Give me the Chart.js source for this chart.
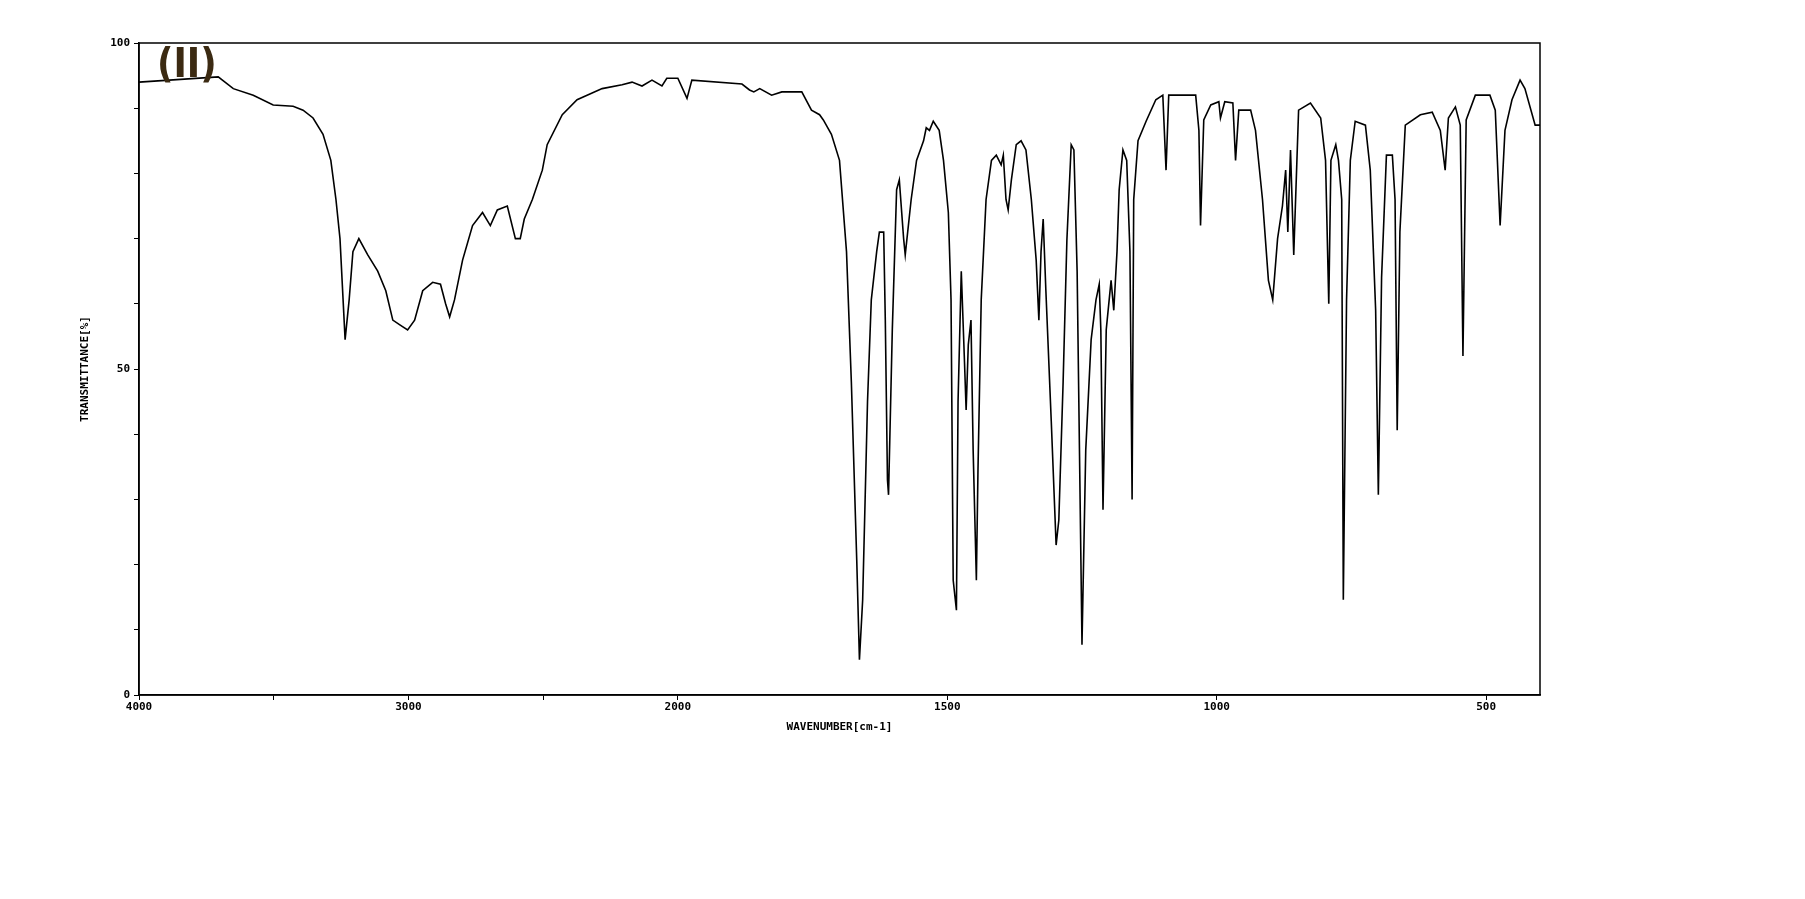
<!DOCTYPE html>
<html><head><meta charset="utf-8">
<script src="https://cdn.jsdelivr.net/npm/chart.js@4"></script>
<style>html,body{margin:0;padding:0;background:#fff}#w{width:1805px;height:899px}</style>
</head><body><div id="w"><canvas id="c"></canvas></div>
<script>
// Wavenumbers (cm-1) and transmittance (%)
const wavenumbers = [4000,3706,3650,3576,3502,3428,3391,3354,3317,3288,3269,3254,3235,3220,3206,3184,3151,3114,3084,3058,3029,3003,2977,2947,2910,2881,2862,2847,2829,2799,2762,2725,2696,2670,2633,2603,2585,2570,2540,2503,2485,2429,2374,2281,2207,2170,2133,2096,2059,2041,2000,
1983,1974,1881,1867,1859,1848,1826,1807,1770,1752,1737,1730,1715,1700,1687,1678,1668,1663,1657,1648,1641,1631,1626,1618,1615,1611,1609,1602,1594,1589,1581,1578,1567,1557,1544,1539,1533,1526,1515,1507,1498,1493,1489,1483,1480,1474,1468,1465,1461,1456,1452,1446,1443,1437,1428,1418,1409,1400,1396,1391,1387,1381,1372,1363,1354,1344,1335,1330,1326,1322,1317,1307,1298,1293,1285,1278,1270,1265,1259,1252,1250,1243,1233,1224,1218,1215,1211,1205,1196,1191,1185,1181,1174,1167,1161,1157,1154,1146,1131,1113,1100,1094,1089,1067,1039,1033,1030,1024,1011,996,993,985,970,965,959,937,928,915,904,896,887,878,872,868,863,857,848,826,807,798,792,788,779,774,768,765,759,752,743,724,715,705,700,694,685,674,669,665,660,650,622,600,585,576,570,557,548,543,537,520,493,483,474,465,452,437,428,409,400];
const transmittance = [94,94.8,93,92,90.5,90.3,89.7,88.5,86,82,76,70,54.5,60.6,68,70,67.5,65,62,57.5,56.7,56,57.5,62,63.3,63,60,58,60.6,66.7,72,74,72,74.4,75,70,70,73,76,80.5,84.4,89,91.3,93,93.6,94,93.4,94.3,93.4,94.6,94.6,
91.5,94.3,93.7,92.8,92.5,93,92,92.5,92.5,89.7,89,88.2,86,82,68,48,20.7,5.4,14.6,45,60.6,68,71,71,57.5,33,30.7,56,77.5,79,70,67.5,76,82,85,87,86.6,88,86.6,82,74,60.6,17.6,13,45,65,51,43.7,53.7,57.5,37.6,17.6,34.5,60.6,76,82,82.8,81.3,82.8,76,74.4,79,84.4,85,83.6,76,66.7,57.5,68,73,62,42,23,26.8,48,69.8,84.4,83.6,65,20.7,7.7,37.6,54.5,60.6,63,56,28.4,56,63.6,59,68,77.5,83.6,82,68,30,76,85,88,91.3,92,80.5,92,92,92,86.6,72,88.2,90.5,91,88.5,91,90.8,82,89.7,89.7,86.6,76,63.6,60.6,70,75,80.5,71,83.6,67.5,89.7,90.8,88.5,82,60,82,84.4,82,76,14.6,60.6,82,88,87.4,80.5,59,30.7,64,82.8,82.8,76,40.6,71,87.4,89,89.4,86.6,80.5,88.5,90.2,87.4,52,88.2,92,92,89.7,72,86.6,91.3,94.3,93,87.4,87.4];
const xTickValues = [4000,3500,3000,2500,2000,1500,1000,500];
const xTickLabels = ['4000','','3000','','2000','1500','1000','500'];
const yTickLabels = {0:'0',50:'50',100:'100'};

// axis scale changes at 2000 cm-1 (2x compressed above)
const toAxis = w => w <= 2000 ? w : 2000 + (w - 2000) / 2;
const fromAxis = u => u <= 2000 ? u : 2000 + (u - 2000) * 2;
const pts = wavenumbers.map((w,i)=>({x:toAxis(w), y:transmittance[i]}));
const font = {family:'DejaVu Sans Mono', size:11, weight:'bold'};

const frame = {id:'frame', afterDraw(ch){
  const a = ch.chartArea, g = ch.ctx;
  g.save(); g.strokeStyle='#000'; g.lineWidth=1.5;
  g.strokeRect(a.left, a.top, a.right-a.left, a.bottom-a.top);
  g.fillStyle='#3b2a12'; g.font='bold 40px "DejaVu Sans Condensed", sans-serif';
  g.textBaseline='top'; g.fillText('(II)', a.left+18, a.top+4);
  g.restore();
}};

new Chart(document.getElementById('c'), {
  type:'line',
  data:{datasets:[{data:pts, borderColor:'#000', borderWidth:1.6, pointRadius:0, tension:0, fill:false}]},
  options:{
    responsive:true, maintainAspectRatio:false, animation:false,
    layout:{padding:{left:75, right:265, top:43, bottom:161}},
    plugins:{legend:{display:false}, tooltip:{enabled:false}},
    scales:{
      x:{type:'linear', reverse:true, min:toAxis(400), max:toAxis(4000),
        afterBuildTicks(s){ s.ticks = xTickValues.map(v=>({value:toAxis(v)})); },
        afterFit(s){ s.height = 43; },
        ticks:{autoSkip:false, maxRotation:0, color:'#000', font, padding:1,
          callback(v){ const i = xTickValues.indexOf(fromAxis(v)); return i>=0 ? xTickLabels[i] : ''; }},
        grid:{drawOnChartArea:false, tickLength:5, color:'#000'},
        border:{color:'#000', width:1.5},
        title:{display:true, text:'WAVENUMBER[cm-1]', color:'#000', font, padding:{top:0}}},
      y:{min:0, max:100,
        afterFit(s){ s.width = 64; },
        ticks:{stepSize:10, autoSkip:false, color:'#000', font, padding:4,
          callback(v){ return yTickLabels[v] ?? ''; }},
        grid:{drawOnChartArea:false, tickLength:5, color:'#000'},
        border:{color:'#000', width:1.5},
        title:{display:true, text:'TRANSMITTANCE[%]', color:'#000', font, padding:{bottom:4}}}
    }
  },
  plugins:[frame]
});
</script></body></html>
